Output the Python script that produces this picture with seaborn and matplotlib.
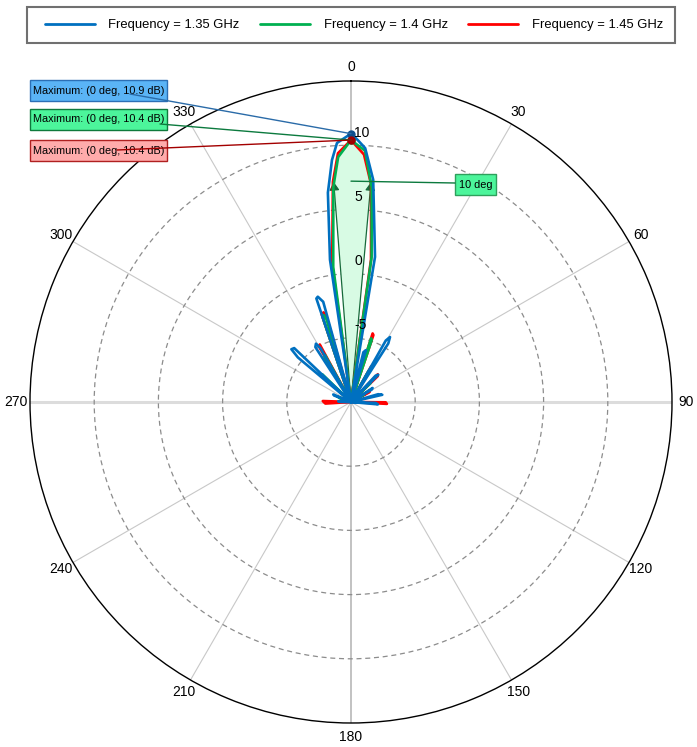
import numpy as np
import pandas as pd
import seaborn as sns
import matplotlib.pyplot as plt
from matplotlib.lines import Line2D
from matplotlib.patches import Rectangle, ConnectionPatch

sns.set_style('white')
plt.rcParams['font.family'] = ['Liberation Sans', 'DejaVu Sans']
plt.rcParams['text.color'] = 'black'

# radiation pattern, gain in dB against angle in degrees
blue_deg = [-100, -89.5, -87, -80, -69, -67, -58, -50, -48.5, -46.5, -40, -33, -31, -29.5, -24,
            -18.5, -17.5, -15.5, -12, -8.4, -6.3, -4.5, -3.1, 0, 1.5, 3.2, 5.7, 9.4, 12, 14, 16, 22,
            29.5, 31, 32.5, 38, 43, 45, 51, 57, 59, 66, 74, 77, 84, 92, 95, 100]
blue_db = [-20, -9.2, -9.0, -20, -8.6, -8.5, -20, -4.6, -3.8, -3.9, -20, -4.9, -4.7, -5.2, -20,
           -1.5, -1.4, -1.9, -20, 1.2, 6.4, 8.9, 10.2, 10.9, 10.4, 9.8, 7.4, 1.45, -20, -6.0, -5.8, -20,
           -4.5, -4.1, -4.6, -20, -7.2, -7.0, -20, -8.0, -8.1, -20, -7.8, -7.5, -20, -8.1, -7.9, -20]

green_deg = [-100, -71, -69, -60, -48, -46, -38, -31, -29, -23, -18.5, -17.5, -16.5, -11,
             -7.5, -4.7, -3, 0, 3.2, 5.5, 8.1, 12, 17.5, 18.5, 24, 29.5, 31, 38, 44, 46, 53,
             59, 61, 70, 100]
green_db = [-20, -9.0, -9.1, -20, -7.0, -6.9, -20, -6.0, -5.8, -20, -3.0, -2.9, -3.3, -20,
            0.6, 6.8, 9.1, 10.4, 9.6, 6.8, 1.4, -20, -4.8, -4.9, -20, -7.2, -7.3, -20, -7.8, -7.9, -20,
            -8.8, -8.9, -20, -20]

red_deg = [-100, -93.5, -88, -82, -36, -30, -28.5, -23, -18.5, -17, -16, -11, -7.8, -4.7, -3, 0,
           3, 5.3, 8, 12, 17.5, 18.5, 24, 29.5, 31, 38, 44, 46, 53, 60, 62, 75, 90.5, 93, 100]
red_db = [-20, -8.0, -7.8, -20, -20, -5.0, -4.9, -20, -2.8, -2.7, -3.2, -20, 0.8, 7.2, 9.4, 10.4,
          9.3, 7.0, 1.2, -20, -4.4, -4.5, -20, -6.8, -6.9, -20, -7.0, -7.1, -20, -8.3, -8.4, -20,
          -7.3, -7.2, -20]

freq_labels = ['Frequency = 1.35 GHz', 'Frequency = 1.4 GHz', 'Frequency = 1.45 GHz']
line_colors = ['#0070C0', '#00B050', '#FF0000']

# half power beamwidth of the 1.4 GHz trace
bw_deg = [-4.5, 5.2]
bw_level = 7.2
bw_label = '10 deg'

theta_ticks = list(range(0, 360, 30))
r_ticks = [-5, 0, 5, 10]
r_min, r_max = -10, 15

W, H = 697, 747
def fx(x):
    return x / W
def fy(y):
    return 1 - y / H

series = [(blue_deg, blue_db), (green_deg, green_db), (red_deg, red_db)]
frames = []
for lab, (d, v) in zip(freq_labels, series):
    frames.append(pd.DataFrame({'theta': np.deg2rad(d), 'gain': np.clip(v, r_min, None), 'freq': lab}))
df = pd.concat(frames, ignore_index=True)

fig = plt.figure(figsize=(W / 100, H / 100), dpi=100)
ax = fig.add_axes([30 / W, 24 / H, 642 / W, 642 / H], projection='polar')
ax.set_theta_zero_location('N')
ax.set_theta_direction(-1)
ax.set_ylim(r_min, r_max)

# beamwidth wedge
gd = np.array(green_deg)
gv = np.array(green_db)
inside = (gd > bw_deg[0]) & (gd < bw_deg[1])
fill_t = np.deg2rad(np.concatenate([[0, bw_deg[0]], gd[inside], [bw_deg[1], 0]]))
fill_r = np.concatenate([[r_min, bw_level], gv[inside], [bw_level, r_min]])
ax.fill(fill_t, fill_r, color='#D8FBE4', zorder=1, lw=0)
for b in bw_deg:
    ax.annotate('', xy=(np.deg2rad(b), bw_level), xytext=(np.deg2rad(b), r_min),
                arrowprops=dict(arrowstyle='-|>,head_length=0.5,head_width=0.3', color='#17693A',
                                lw=0.9, shrinkA=0, shrinkB=0, mutation_scale=10), zorder=2)

draw_order = [freq_labels[2], freq_labels[1], freq_labels[0]]
sns.lineplot(data=df, x='theta', y='gain', hue='freq', hue_order=draw_order,
             palette=dict(zip(freq_labels, line_colors)), sort=False, estimator=None,
             lw=1.9, legend=False, ax=ax, zorder=3)
ax.set_xlabel('')
ax.set_ylabel('')

# maxima markers and their labels
marker_colors = ['#0D4E8C', '#0B7A3B', '#A00000']
box_faces = ['#5AB4F6', '#4CF59B', '#FFABAB']
box_edges = ['#2C6FB5', '#0E7A3C', '#B02020']
link_colors = ['#2A6BA8', '#0C7A3E', '#A30000']
box_tops = [80, 109, 140]
link_start = [(130, 94), (160, 124), (117, 150)]
marker_z = [6.2, 6.0, 6.5]
for i, (d, v) in enumerate(series):
    k = int(np.argmax(v))
    ax.plot(np.deg2rad(d[k]), v[k], 'o', color=marker_colors[i], ms=5, zorder=marker_z[i])
    y0 = box_tops[i]
    fig.add_artist(Rectangle((fx(30), fy(y0 + 21)), 137 / W, 21 / H, transform=fig.transFigure,
                             fc=box_faces[i], ec=box_edges[i], lw=1, zorder=3))
    fig.text(fx(33), fy(y0 + 10.5), f'Maximum: ({d[k]:g} deg, {v[k]:.1f} dB)', fontsize=7.8,
             va='center', ha='left', zorder=4)
    fig.add_artist(ConnectionPatch(xyA=(fx(link_start[i][0]), fy(link_start[i][1])),
                                   coordsA=fig.transFigure,
                                   xyB=(np.deg2rad(d[k]), v[k]), coordsB=ax.transData,
                                   color=link_colors[i], lw=1, zorder=5))

# beamwidth label
fig.add_artist(Rectangle((fx(455), fy(195)), 41 / W, 21 / H, transform=fig.transFigure,
                         fc='#4CF59B', ec='#2EA05C', lw=1, zorder=3))
fig.text(fx(475.5), fy(184.5), bw_label, fontsize=7.8, ha='center', va='center', zorder=4)
fig.add_artist(ConnectionPatch(xyA=(fx(455), fy(183)), coordsA=fig.transFigure,
                               xyB=(0, bw_level), coordsB=ax.transData,
                               color='#0C7A3E', lw=1, zorder=5))

# grid and ticks
ax.set_thetagrids(theta_ticks, labels=[str(t) for t in theta_ticks])
ax.tick_params(axis='x', pad=-0.5, labelsize=10, labelcolor='black')
ax.set_yticks(r_ticks)
ax.set_yticklabels([])
ax.xaxis.grid(True, color='#C8C8C8', lw=0.8, ls='-')
ax.yaxis.grid(True, color='#8C8C8C', lw=0.9, ls=(0, (4, 3)))
gls = ax.xaxis.get_gridlines()
for j in (3, 9):
    gls[j].set_linewidth(2.2)
    gls[j].set_color('#DCDCDC')
for j in (0, 6):
    gls[j].set_color('#B8B8B8')
    gls[j].set_linewidth(1.2)
ax.spines['polar'].set_color('black')
ax.spines['polar'].set_linewidth(1)
for t in r_ticks:
    ax.annotate(str(t), xy=(0, t), xytext=(2.5, 9), textcoords='offset points',
                ha='left', va='center', fontsize=10, color='black', zorder=7)

# legend with its own frame
fig.add_artist(Rectangle((fx(27), fy(43)), 648 / W, 36 / H, transform=fig.transFigure,
                         fc='white', ec='#707070', lw=1.5, zorder=2))
handles = [Line2D([], [], color=c, lw=2) for c in line_colors]
leg = fig.legend(handles, freq_labels, loc='center left', ncol=3, mode='expand',
                 bbox_to_anchor=(fx(45), fy(43), 618 / W, 36 / H), frameon=False,
                 fontsize=9.4, handlelength=3.8, handletextpad=1.05, borderpad=0,
                 borderaxespad=0, labelcolor='black')
leg.set_zorder(4)

fig.savefig('out.png', dpi=100)
